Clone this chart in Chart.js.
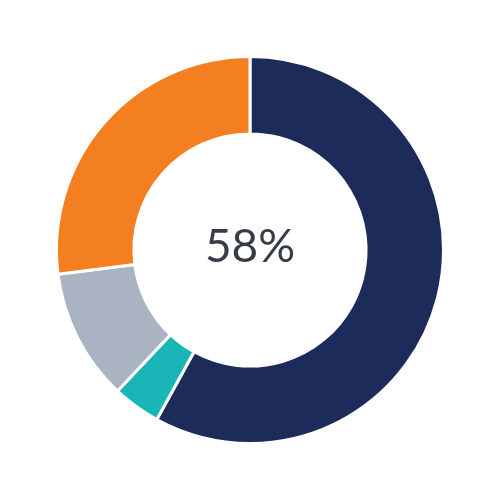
<!DOCTYPE html>
<html>
<head>
<meta charset="utf-8">
<script src="https://cdn.jsdelivr.net/npm/chart.js@4/dist/chart.umd.min.js"></script>
<style>
  html, body { margin: 0; padding: 0; background: #fff; }
  #wrap { width: 500px; height: 500px; }
</style>
</head>
<body>
<div id="wrap"><canvas id="myDonut" width="500" height="500"></canvas></div>
<script>
const labels = ['Navy', 'Teal', 'Gray', 'Orange'];
const shares = [58, 4, 11, 27];
const colours = ['#1c2b5a', '#1ab5b6', '#a9b3c1', '#f47f20'];
const centerLabel = '58%';

const centerText = {
    id: 'centerText',
    afterDraw(chart) {
        const c = chart.ctx;
        const meta = chart.getDatasetMeta(0).data[0];
        c.save();
        c.font = '400 46px Lato';
        c.fillStyle = '#363d46';
        c.textAlign = 'center';
        c.textBaseline = 'middle';
        c.fillText(centerLabel, meta.x, meta.y - 3);
        c.restore();
    }
};

const loadDonut = () => {
    const ctx = document.getElementById('myDonut').getContext('2d');
    new Chart(ctx, {
        type: 'doughnut',
        data: {
            labels: labels,
            datasets: [{
                data: shares,
                backgroundColor: colours,
                borderColor: '#ffffff',
                borderWidth: 3
            }]
        },
        options: {
            responsive: false,
            animation: false,
            cutout: '60%',
            layout: { padding: 55 },
            plugins: {
                legend: { display: false },
                tooltip: { enabled: false }
            }
        },
        plugins: [centerText]
    });
}

loadDonut();
</script>
</body>
</html>
